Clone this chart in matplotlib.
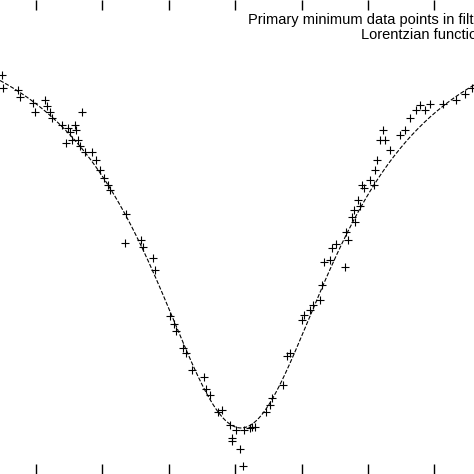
import numpy as np
import matplotlib
matplotlib.use("Agg")
import matplotlib.pyplot as plt

xs = [2,3,18,20,33,35,45,47,50,52,62,68,70,66,72,78,80,82,75,76,85,92,96,100,104,108,110,126,125,141,143,153,155,170,174,176,183,186,192,204,206,210,218,222,230,232,236,232,240,243,244,250,252,255,266,270,272,283,287,290,302,304,310,313,320,322,324,330,332,336,345,346,348,352,354,355,358,360,362,364,370,374,375,377,380,383,385,390,400,405,410,416,420,425,430,443,456,465,472]
ys = [75,88,90,97,103,112,100,106,112,118,125,128,132,143,140,140,146,112,125,130,152,152,160,170,178,185,190,214,243,240,247,258,270,316,324,331,348,353,370,377,389,395,412,410,425,438,430,441,449,466,430,428,427,427,412,405,398,385,356,353,320,315,310,305,300,285,262,260,248,244,267,232,240,217,210,222,200,206,185,188,180,185,170,160,140,130,140,150,135,130,118,110,105,110,104,104,100,94,88]

# Lorentzian fit parameters (baseline, depth, centre, half width)
base, depth, x0, hw = 0.0, 428.0, 241.0, 116.0
xf = np.linspace(0, 474, 400)
yf = base + depth / (1 + ((xf - x0) / hw) ** 2)

plt.rcParams['font.family'] = ['Liberation Sans', 'DejaVu Sans']
fig = plt.figure(figsize=(4.74, 4.74), dpi=100)
ax = fig.add_axes([0, 0, 1, 1])
ax.plot(xs, ys, '+', color='black', ms=6, mew=0.8,
        label='Primary minimum data points in filter R')
ax.plot(xf, yf, '--', color='black', lw=0.8, label='Lorentzian function fit')
ax.set_xlim(0, 474)
ax.set_ylim(474, 0)
ax.set_xticks([36, 102, 169, 235, 302, 368, 434])
ax.set_yticks([])
ax.tick_params(axis='x', direction='in', top=True, bottom=True, length=7,
               width=1, labelbottom=False, labeltop=False)
for s in ax.spines.values():
    s.set_visible(False)
leg = ax.legend(loc='upper left', bbox_to_anchor=(0.51, 0.985), frameon=False,
                markerfirst=False, fontsize=10.5, handlelength=2.5,
                borderaxespad=0, labelspacing=0.05)
for t in leg.get_texts():
    t.set_ha('right')
fig.savefig('out.png', dpi=100)
